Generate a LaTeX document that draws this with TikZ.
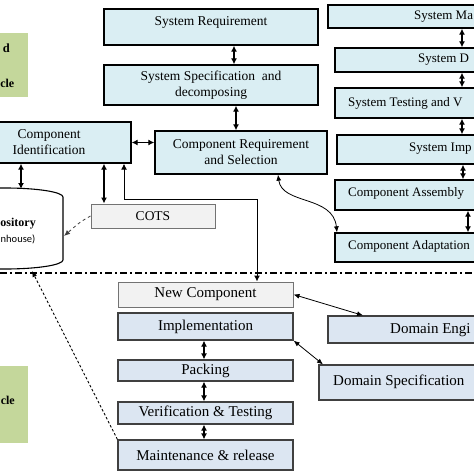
\documentclass[tikz,border=0pt]{standalone}
\usepackage{fontspec}
\setmainfont{Liberation Serif}
\newfontfamily\cbfont{Carlito}
\usetikzlibrary{arrows.meta}
\definecolor{ublue}{HTML}{DAEEF3}
\definecolor{lblue}{HTML}{DCE6F2}
\definecolor{lgray}{HTML}{F2F2F2}
\definecolor{lgreen}{HTML}{C4D79B}
\begin{document}
\begin{tikzpicture}[x=1pt,y=-1pt,
  ubox/.style={draw=black, line width=1.3pt, fill=ublue, inner sep=0pt, align=center, font=\fontsize{13.5}{16}\selectfont},
  lbox/.style={draw=black!75, line width=1.2pt, fill=lblue, inner sep=0pt, align=center, font=\fontsize{15}{18}\selectfont},
  gbox/.style={draw=black!55, line width=1pt, fill=lgray, inner sep=0pt, align=center},
  grbox/.style={draw=none, fill=lgreen, inner sep=0pt},
  utxt/.style={inner sep=0pt, font=\fontsize{13.5}{16}\selectfont},
  rtxt/.style={inner sep=0pt, font=\fontsize{13}{16}\selectfont},
  ltxt/.style={inner sep=0pt, font=\fontsize{15}{18}\selectfont},
  tip/.tip={Latex[length=6pt,width=6pt]},
  dbl/.style={tip-tip, line width=1.2pt},
  thin/.style={{Latex[length=6pt,width=5pt]}-{Latex[length=6pt,width=5pt]}, line width=0.8pt},
]
\useasboundingbox (0,0) rectangle (474,474);
\clip (0,0) rectangle (474,474);
\fill[white] (0,0) rectangle (474,474);

% green labels
\node[grbox, minimum width=80, minimum height=64] (g1) at (-12,65) {};
\node[inner sep=0pt, anchor=east, font=\fontsize{12.5}{16}\selectfont\bfseries] (g1a) at (10,48) {d};
\node[inner sep=0pt, anchor=east, font=\fontsize{12}{16}\selectfont\bfseries] (g1b) at (14.5,83) {cle};
\node[grbox, minimum width=80, minimum height=77] (g2) at (-12,404.5) {};
\node[inner sep=0pt, anchor=east, font=\fontsize{12}{16}\selectfont\bfseries] (g2a) at (15,400) {cle};

% upper middle column
\node[ubox, minimum width=214, minimum height=36] (sysreq) at (211,27) {};
\node[utxt] (tsr) at (211,22) {System Requirement};
\node[ubox, minimum width=214, minimum height=40] (sysspec) at (211,85) {System Specification\ \ and\\decomposing};
\node[ubox, minimum width=172, minimum height=43] (crs) at (241,152.5) {Component Requirement\\and Selection};
\node[ubox, minimum width=164, minimum height=41] (ci) at (49,142.5) {Component\\Identification};
\node[gbox, minimum width=124, minimum height=24, font=\fontsize{13.5}{16}\selectfont] (cots) at (153,216) {COTS};

% right column
\node[ubox, minimum width=162, minimum height=23] (sm) at (409,16.5) {};
\node[rtxt, anchor=west] (tsm) at (414,16.5) {System Ma};
\node[ubox, minimum width=155, minimum height=24] (sd) at (412.5,60) {};
\node[rtxt, anchor=west] (tsd) at (418,60) {System D};
\node[ubox, minimum width=155, minimum height=30] (stv) at (412.5,103) {};
\node[rtxt, anchor=west] (tstv) at (348,103) {System Testing and V};
\node[ubox, minimum width=153, minimum height=29] (sip) at (413.5,149.5) {};
\node[rtxt, anchor=west] (tsip) at (409,149) {System Imp};
\node[ubox, minimum width=155, minimum height=30] (cas) at (412.5,195) {};
\node[rtxt, anchor=west] (tcas) at (348,193) {Component Assembly};
\node[ubox, minimum width=155, minimum height=29] (cad) at (412.5,247.5) {};
\node[rtxt, anchor=west] (tcad) at (348,246) {Component Adaptation};

% repository cylinder
\draw[line width=1.1pt, fill=white] (63,197) -- (63,260)
  arc[start angle=0, end angle=180, x radius=58, y radius=9] -- (-53,197)
  arc[start angle=180, end angle=360, x radius=58, y radius=9] -- cycle;
\coordinate (cyltop) at (21,189);
\coordinate (cylside) at (64,236);
\coordinate (cylbot) at (32,271);
\node[inner sep=0pt, anchor=east, font=\fontsize{12}{16}\selectfont\bfseries] (trep) at (36,224) {ository};
\node[inner sep=0pt, anchor=west, font=\cbfont\fontsize{10.5}{16}\selectfont] (twh) at (0.5,239) {nhouse)};

% separator
\draw[line width=1.1pt, dash pattern=on 7pt off 3pt on 2pt off 3pt] (0,273) -- (474,273);

% lower column
\node[gbox, minimum width=175, minimum height=25, font=\fontsize{15}{18}\selectfont] (nc) at (205.5,294.5) {New Component};
\node[lbox, minimum width=175, minimum height=27] (impl) at (205.5,326.5) {Implementation};
\node[lbox, minimum width=175, minimum height=21] (pack) at (205.5,370.5) {Packing};
\node[lbox, minimum width=175, minimum height=22] (vt) at (205.5,413) {Verification \& Testing};
\node[lbox, minimum width=175, minimum height=30] (mr) at (205.5,455) {Maintenance \& release};
\node[lbox, minimum width=162, minimum height=27] (de) at (409,329.5) {};
\node[ltxt, anchor=west] (tde) at (390,330) {Domain Engi};
\node[lbox, minimum width=171, minimum height=35] (ds) at (404.5,382.5) {};
\node[ltxt, anchor=west] (tds) at (333,382) {Domain Specification};

% connectors upper
\coordinate (x1) at (234,0);
\draw[dbl] (x1 |- sysreq.south) -- (x1 |- sysspec.north);
\coordinate (x2) at (236,0);
\draw[dbl] (x2 |- sysspec.south) -- (x2 |- crs.north);
\draw[dbl] (ci.east) -- (ci.east -| crs.west);
\coordinate (x3) at (21,0);
\draw[dbl] (x3 |- ci.south) -- (cyltop);
\coordinate (x4) at (104,0);
\draw[dbl] (x4 |- ci.south) -- (x4 |- cots.north);
\coordinate (j1) at (124,199);
\coordinate (j2) at (257,199);
\draw[tip-tip, line width=1pt] (j1 |- ci.south) -- (j1) -- (j2) -- (j2 |- nc.north);
\coordinate (x5) at (462,0);
\draw[dbl] (x5 |- sm.south) -- (x5 |- sd.north);
\draw[dbl] (x5 |- sd.south) -- (x5 |- stv.north);
\draw[dbl] (x5 |- stv.south) -- (x5 |- sip.north);
\coordinate (x6) at (463,0);
\draw[dbl] (x6 |- sip.south) -- (x6 |- cas.north);
\coordinate (x7) at (468,0);
\draw[dbl] (x7 |- cas.south) -- (x7 |- cad.north);
\coordinate (c1) at (278,0);
\coordinate (c2) at (337,0);
\draw[thin] (c1 |- crs.south) .. controls (282,205) and (333,195) .. (c2 |- cad.north);
\draw[dashed, line width=0.8pt, black!75, -{Latex[length=6pt,width=5pt]}] (cots.west) .. controls (80,222) .. (cylside);
\draw[line width=0.9pt, dash pattern=on 2.5pt off 2pt, -{Latex[length=6pt,width=5pt]}] (mr.north west) -- (cylbot);

% connectors lower
\coordinate (x8) at (204,0);
\draw[dbl] (x8 |- impl.south) -- (x8 |- pack.north);
\draw[dbl] (x8 |- pack.south) -- (x8 |- vt.north);
\draw[dbl] (x8 |- vt.south) -- (x8 |- mr.north);
\coordinate (d1) at (363,0);
\draw[thin] (nc.east) -- (d1 |- de.north);
\coordinate (d2) at (323,0);
\draw[thin] (impl.south east) -- (d2 |- ds.north);
\end{tikzpicture}
\end{document}
